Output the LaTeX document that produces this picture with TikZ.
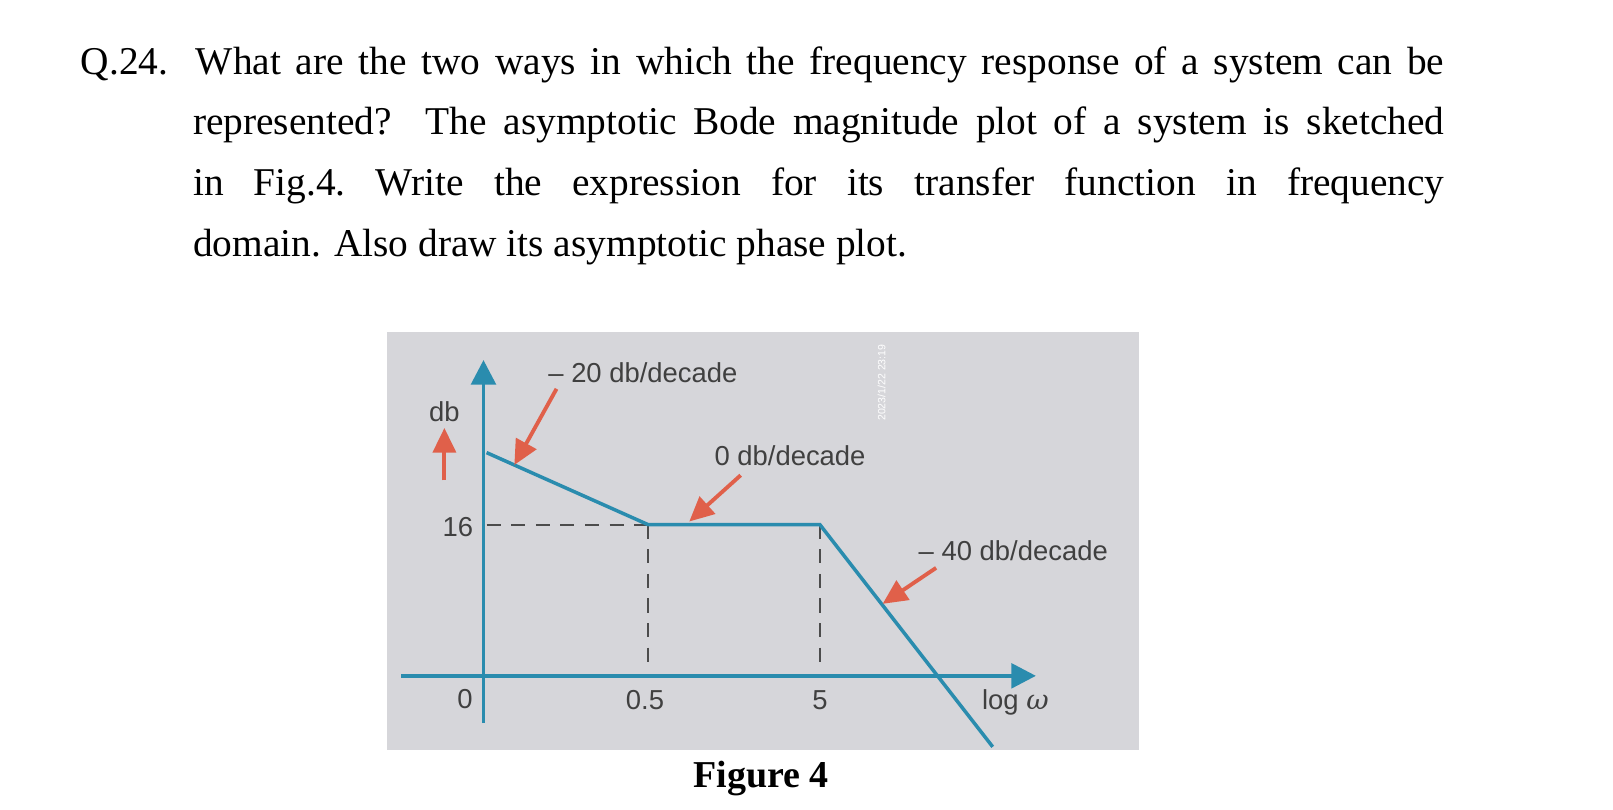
\documentclass[tikz,border=0pt]{standalone}
\usepackage{fontspec}
\setmainfont{Liberation Serif}
\newfontfamily\plotfont{Liberation Sans}
\newfontfamily\symfont{DejaVu Serif}
\usetikzlibrary{arrows.meta}
\definecolor{axc}{HTML}{2A8CAE}
\definecolor{arc}{HTML}{E0604A}
\definecolor{bgc}{HTML}{D6D6DA}
\tikzset{
 qline/.style={anchor=west,inner sep=0pt,font=\fontsize{11.2pt}{12pt}\selectfont},
 lab/.style={font=\plotfont\fontsize{7.8pt}{9pt}\selectfont,text=black!75,inner sep=0pt},
 ax/.style={axc,line width=1.1pt,-{Triangle[length=7pt,width=7pt]}},
 redarr/.style={arc,line width=1.1pt,-{Triangle[length=7pt,width=6.5pt]}},
 curve/.style={axc,line width=1pt},
 dsh/.style={black!70,line width=0.6pt,dash pattern=on 4pt off 3pt}
}
\begin{document}
\begin{tikzpicture}[x=0.010287cm,y=-0.010287cm]
\node[qline] (l1) at (78,63) {\hbox to 13.63cm{Q.24. What are the two ways in which the frequency response of a system can be}};
\node[qline] (l2) at (187,121) {\hbox to 12.51cm{represented? The asymptotic Bode magnitude plot of a system is sketched}};
\node[qline] (l3) at (187,181) {\hbox to 12.51cm{in\hfil\ Fig.4.\hfil\ Write\hfil\ the\hfil\ expression\hfil\ for\hfil\ its\hfil\ transfer\hfil\ function\hfil\ in\hfil\ frequency}};
\node[qline] (l4) at (187,240) {domain. Also draw its asymptotic phase plot.};
\fill[bgc] (376,323) rectangle (1107,729);
\node[font=\plotfont\fontsize{3pt}{3pt}\selectfont,text=white,rotate=90] (ts) at (857,372) {2023/1/22 23:19};
\coordinate (yb) at (470,703); \coordinate (yt) at (470,350);
\coordinate (xl) at (390,657); \coordinate (xr) at (1007,657);
\draw[ax] (yb) -- (yt);
\draw[ax] (xl) -- (xr);
\coordinate (a) at (473,440); \coordinate (b) at (630,510);
\coordinate (c) at (797,510); \coordinate (d) at (965,726);
\coordinate (y16) at (473,510); \coordinate (b0) at (630,650); \coordinate (c0) at (797,650);
\draw[dsh] (y16) -- (b);
\draw[dsh] (b) -- (b0);
\draw[dsh] (c) -- (c0);
\draw[curve] (a) -- (b) -- (c) -- (d);
\node[lab] (db) at (432,400) {db};
\coordinate (dbs) at (432,467); \coordinate (dbe) at (432,416);
\draw[redarr] (dbs) -- (dbe);
\node[lab] (n16) at (445,512) {16};
\node[lab] (n0) at (452,680) {0};
\node[lab] (n05) at (627,681) {0.5};
\node[lab] (n5) at (797,681) {5};
\node[lab] (lw) at (987,683) {log {\symfont\itshape ω}};
\node[lab] (t20) at (625,362) {– 20 db/decade};
\node[lab] (t0) at (768,443) {0 db/decade};
\node[lab] (t40) at (985,535) {– 40 db/decade};
\coordinate (r1s) at (541,378); \coordinate (r1e) at (500,452);
\coordinate (r2s) at (720,462); \coordinate (r2e) at (670,507);
\coordinate (r3s) at (910,552); \coordinate (r3e) at (858,587);
\draw[redarr] (r1s) -- (r1e);
\draw[redarr] (r2s) -- (r2e);
\draw[redarr] (r3s) -- (r3e);
\node[font=\bfseries\fontsize{10.8pt}{12pt}\selectfont] (fig) at (740,757) {Figure 4};
\pgfresetboundingbox
\path[use as bounding box] (0,0) rectangle (1568,786.5);
\end{tikzpicture}
\end{document}
